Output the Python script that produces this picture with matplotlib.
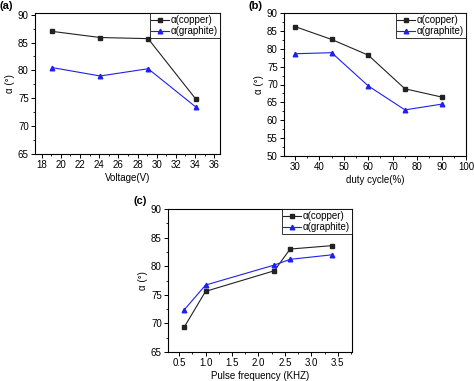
import numpy as np
import matplotlib
matplotlib.use('Agg')
import matplotlib.pyplot as plt
from matplotlib.ticker import AutoMinorLocator

plt.rcParams['font.family'] = ['Liberation Sans', 'DejaVu Sans']
plt.rcParams['font.size'] = 7

# (a) voltage
volt = [19.1, 24.1, 29.1, 34.1]
cu_a = [87.0, 85.9, 85.7, 74.8]
gr_a = [80.5, 79.0, 80.3, 73.4]

# (b) duty cycle
duty = [30, 45, 60, 75, 90]
cu_b = [86.2, 82.6, 78.2, 68.8, 66.5]
gr_b = [78.6, 78.9, 69.6, 62.9, 64.5]

# (c) pulse frequency
freq = [0.6, 1.0, 2.3, 2.6, 3.4]
cu_c = [69.4, 75.6, 79.2, 83.0, 83.6]
gr_c = [72.4, 76.7, 80.2, 81.2, 82.0]

W, H = 474, 381
fig = plt.figure(figsize=(W/100, H/100), dpi=100)

def box(l, r, t, b):
    return [l/W, 1 - b/H, (r-l)/W, (b-t)/H]

def panel(rect, x, cu, gr, xlim, ylim, xt, yt, xlabel, tag, tagpos):
    ax = fig.add_axes(rect)
    ax.plot(x, cu, color='#222222', lw=0.8, marker='s', ms=3, label='α(copper)')
    ax.plot(x, gr, color='#2020ee', lw=0.8, marker='^', ms=3.3, label='α(graphite)')
    ax.set_xlim(*xlim)
    ax.set_ylim(*ylim)
    ax.set_xticks(xt)
    ax.set_yticks(yt)
    ax.xaxis.set_minor_locator(AutoMinorLocator(2))
    ax.yaxis.set_minor_locator(AutoMinorLocator(2))
    ax.tick_params(which='major', direction='out', length=3, width=0.7, pad=1.5)
    ax.tick_params(which='minor', direction='out', length=1.5, width=0.6)
    for s in ax.spines.values():
        s.set_linewidth(0.8)
    ax.set_xlabel(xlabel, labelpad=2)
    ax.set_ylabel('α (°)', labelpad=2)
    leg = ax.legend(loc='upper right', fontsize=7, frameon=True, fancybox=False,
                    edgecolor='black', borderpad=0.2, handlelength=1.8,
                    handletextpad=0.2, labelspacing=0.1, borderaxespad=0.0)
    leg.get_frame().set_linewidth(0.7)
    fig.text(tagpos[0]/W, 1 - tagpos[1]/H, tag, fontweight='bold', fontsize=8,
             ha='left', va='top')
    return ax

panel(box(35, 220, 13, 154), volt, cu_a, gr_a, (17.3, 36.6), (65, 90.3),
      np.arange(18, 37, 2), np.arange(65, 91, 5), 'Voltage(V)', '(a)', (0, 1))
panel(box(284, 466, 13, 156), duty, cu_b, gr_b, (25.5, 100), (50, 90),
      np.arange(30, 101, 10), np.arange(50, 91, 5), 'duty cycle(%)', '(b)', (248, 1))
panel(box(168, 352, 209, 352), freq, cu_c, gr_c, (0.29, 3.77), (65, 90),
      np.arange(0.5, 3.6, 0.5), np.arange(65, 91, 5), 'Pulse frequency (KHZ)', '(c)', (134, 196))

fig.savefig('out.png', dpi=100)
